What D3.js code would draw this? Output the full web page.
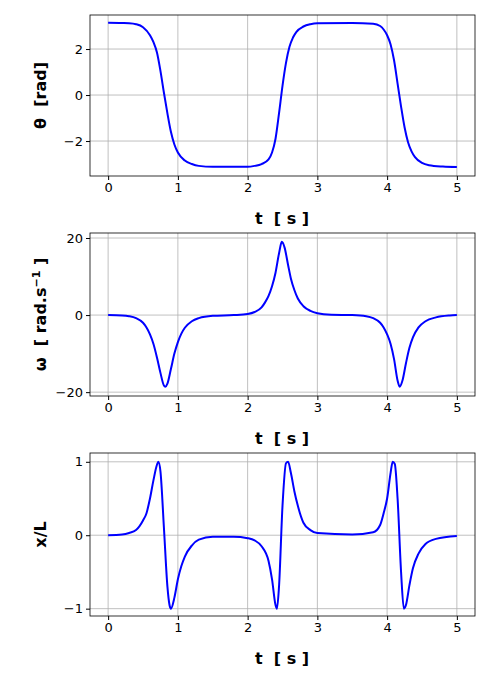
<!DOCTYPE html><html><head><script src="https://cdn.jsdelivr.net/npm/d3@7"></script>
<style>body{margin:0;background:#fff}text{font-family:"DejaVu Sans"}</style></head><body>
<svg id="c" width="500" height="700"></svg>
<script>
const thetaT=[0,0.2,0.3,0.4,0.5,0.6,0.65,0.7,0.75,0.8,0.85,0.9,0.95,1.0,1.1,1.2,1.3,1.5,2.0,2.1,2.2,2.3,2.35,2.4,2.45,2.5,2.55,2.6,2.65,2.7,2.8,2.9,3.0,3.5,3.8,3.9,3.95,4.0,4.05,4.1,4.15,4.2,4.25,4.3,4.35,4.4,4.5,4.6,4.8,5.0];
const thetaV=[3.14,3.13,3.12,3.08,2.95,2.6,2.3,1.85,1.05,0.1,-0.8,-1.6,-2.15,-2.5,-2.85,-3.0,-3.08,-3.12,-3.12,-3.08,-3.0,-2.8,-2.5,-1.9,-0.8,0.4,1.4,2.1,2.5,2.75,2.98,3.08,3.12,3.13,3.1,3.0,2.85,2.6,2.2,1.5,0.5,-0.5,-1.4,-2.05,-2.45,-2.7,-2.95,-3.05,-3.11,-3.13];
const omegaT=[0,0.2,0.3,0.4,0.5,0.55,0.6,0.65,0.7,0.75,0.8,0.82,0.85,0.9,0.95,1.0,1.05,1.1,1.2,1.3,1.5,1.8,2.0,2.1,2.2,2.25,2.3,2.35,2.4,2.45,2.49,2.53,2.58,2.62,2.67,2.72,2.8,2.9,3.0,3.2,3.5,3.7,3.8,3.9,3.95,4.0,4.05,4.1,4.15,4.18,4.22,4.27,4.32,4.37,4.45,4.55,4.7,4.9,5.0];
const omegaV=[0,-0.1,-0.3,-0.8,-2,-3.2,-5,-7.5,-11,-15,-18.3,-18.6,-17.8,-14,-10,-7,-4.8,-3.3,-1.6,-0.8,-0.2,0,0.3,0.8,2,3.3,5,7.5,11,16,19,17.5,13,9.5,6.5,4.3,2.3,1.1,0.5,0.1,0,-0.3,-0.8,-2,-3.2,-5,-7.5,-11.5,-17,-18.6,-17,-12.5,-8.5,-5.8,-3.2,-1.6,-0.6,-0.1,0];
const xT=[0,0.2,0.3,0.4,0.5,0.55,0.6,0.65,0.7,0.72,0.75,0.8,0.85,0.88,0.9,0.95,1.0,1.05,1.1,1.2,1.3,1.5,1.8,2.0,2.1,2.2,2.3,2.35,2.4,2.42,2.45,2.5,2.55,2.58,2.62,2.67,2.72,2.8,2.9,3.0,3.5,3.8,3.9,3.95,4.0,4.05,4.08,4.11,4.15,4.2,4.24,4.27,4.32,4.37,4.45,4.55,4.7,5.0];
const xV=[0,0.01,0.03,0.07,0.2,0.3,0.5,0.75,0.96,1.0,0.87,0.1,-0.7,-0.95,-1.0,-0.85,-0.6,-0.42,-0.29,-0.14,-0.06,-0.02,-0.02,-0.04,-0.07,-0.15,-0.35,-0.6,-0.95,-1.0,-0.7,0.4,0.98,1.0,0.85,0.6,0.4,0.17,0.07,0.03,0.01,0.04,0.14,0.3,0.5,0.85,1.0,0.97,0.5,-0.5,-1.0,-0.95,-0.68,-0.45,-0.25,-0.12,-0.05,-0.01];
const xTicks=[0,1,2,3,4,5];
const panels=[
 {t:thetaT,v:thetaV,top:15,bot:176,dom:[-3.52,3.48],ticks:[-2,0,2],lab:"θ"},
 {t:omegaT,v:omegaV,top:233,bot:396,dom:[-21,21.3],ticks:[-20,0,20],lab:"ω"},
 {t:xT,v:xV,top:453,bot:616,dom:[-1.1,1.12],ticks:[-1,0,1],lab:"x/L"}];
const svg=d3.select("#c");
const x=d3.scaleLinear().domain([-0.26,5.26]).range([90,475]);
const fmt=d=>d<0?"−"+(-d):""+d;
panels.forEach((p,i)=>{
 const y=d3.scaleLinear().domain(p.dom).range([p.bot,p.top]);
 const g=svg.append("g");
 g.selectAll(".gx").data(xTicks).join("line").attr("x1",d=>x(d)).attr("x2",d=>x(d)).attr("y1",p.top).attr("y2",p.bot).attr("stroke","#b0b0b0").attr("stroke-width",0.8);
 g.selectAll(".gy").data(p.ticks).join("line").attr("class","gy").attr("x1",90).attr("x2",475).attr("y1",d=>y(d)).attr("y2",d=>y(d)).attr("stroke","#b0b0b0").attr("stroke-width",0.8);
 const ax=g.append("g").attr("transform",`translate(0,${p.bot})`).call(d3.axisBottom(x).tickValues(xTicks).tickFormat(fmt).tickSizeOuter(0).tickSize(4));
 const ay=g.append("g").attr("transform","translate(90,0)").call(d3.axisLeft(y).tickValues(p.ticks).tickFormat(fmt).tickSizeOuter(0).tickSize(4));
 [ax,ay].forEach(a=>{a.selectAll("text").attr("font-size",13).attr("fill","#000").attr("font-family","DejaVu Sans");a.select(".domain").remove();a.selectAll("line").attr("stroke","#000")});
 g.append("rect").attr("x",90).attr("y",p.top).attr("width",385).attr("height",p.bot-p.top).attr("fill","none").attr("stroke","#000").attr("stroke-width",0.8);
 const line=d3.line().x((d,j)=>x(p.t[j])).y(d=>y(d)).curve(d3.curveMonotoneX);
 g.append("path").attr("d",line(p.v)).attr("fill","none").attr("stroke","#0000ff").attr("stroke-width",2);
 g.append("text").attr("x",282).attr("y",p.bot+48).attr("text-anchor","middle").attr("font-size",16).attr("font-weight","bold").attr("xml:space","preserve").text("t  [ s ]");
 const yl=g.append("text").attr("transform",`translate(46,${(p.top+p.bot)/2}) rotate(-90)`).attr("text-anchor","middle").attr("font-size",16).attr("font-weight","bold").attr("xml:space","preserve");
 if(i==0) yl.text("θ  [rad]");
 else if(i==1){yl.append("tspan").text("ω  [ rad.s");yl.append("tspan").attr("dy",-6).attr("font-size",11).text("−1");yl.append("tspan").attr("dy",6).text(" ]");}
 else yl.text("x/L");
});
</script></body></html>
